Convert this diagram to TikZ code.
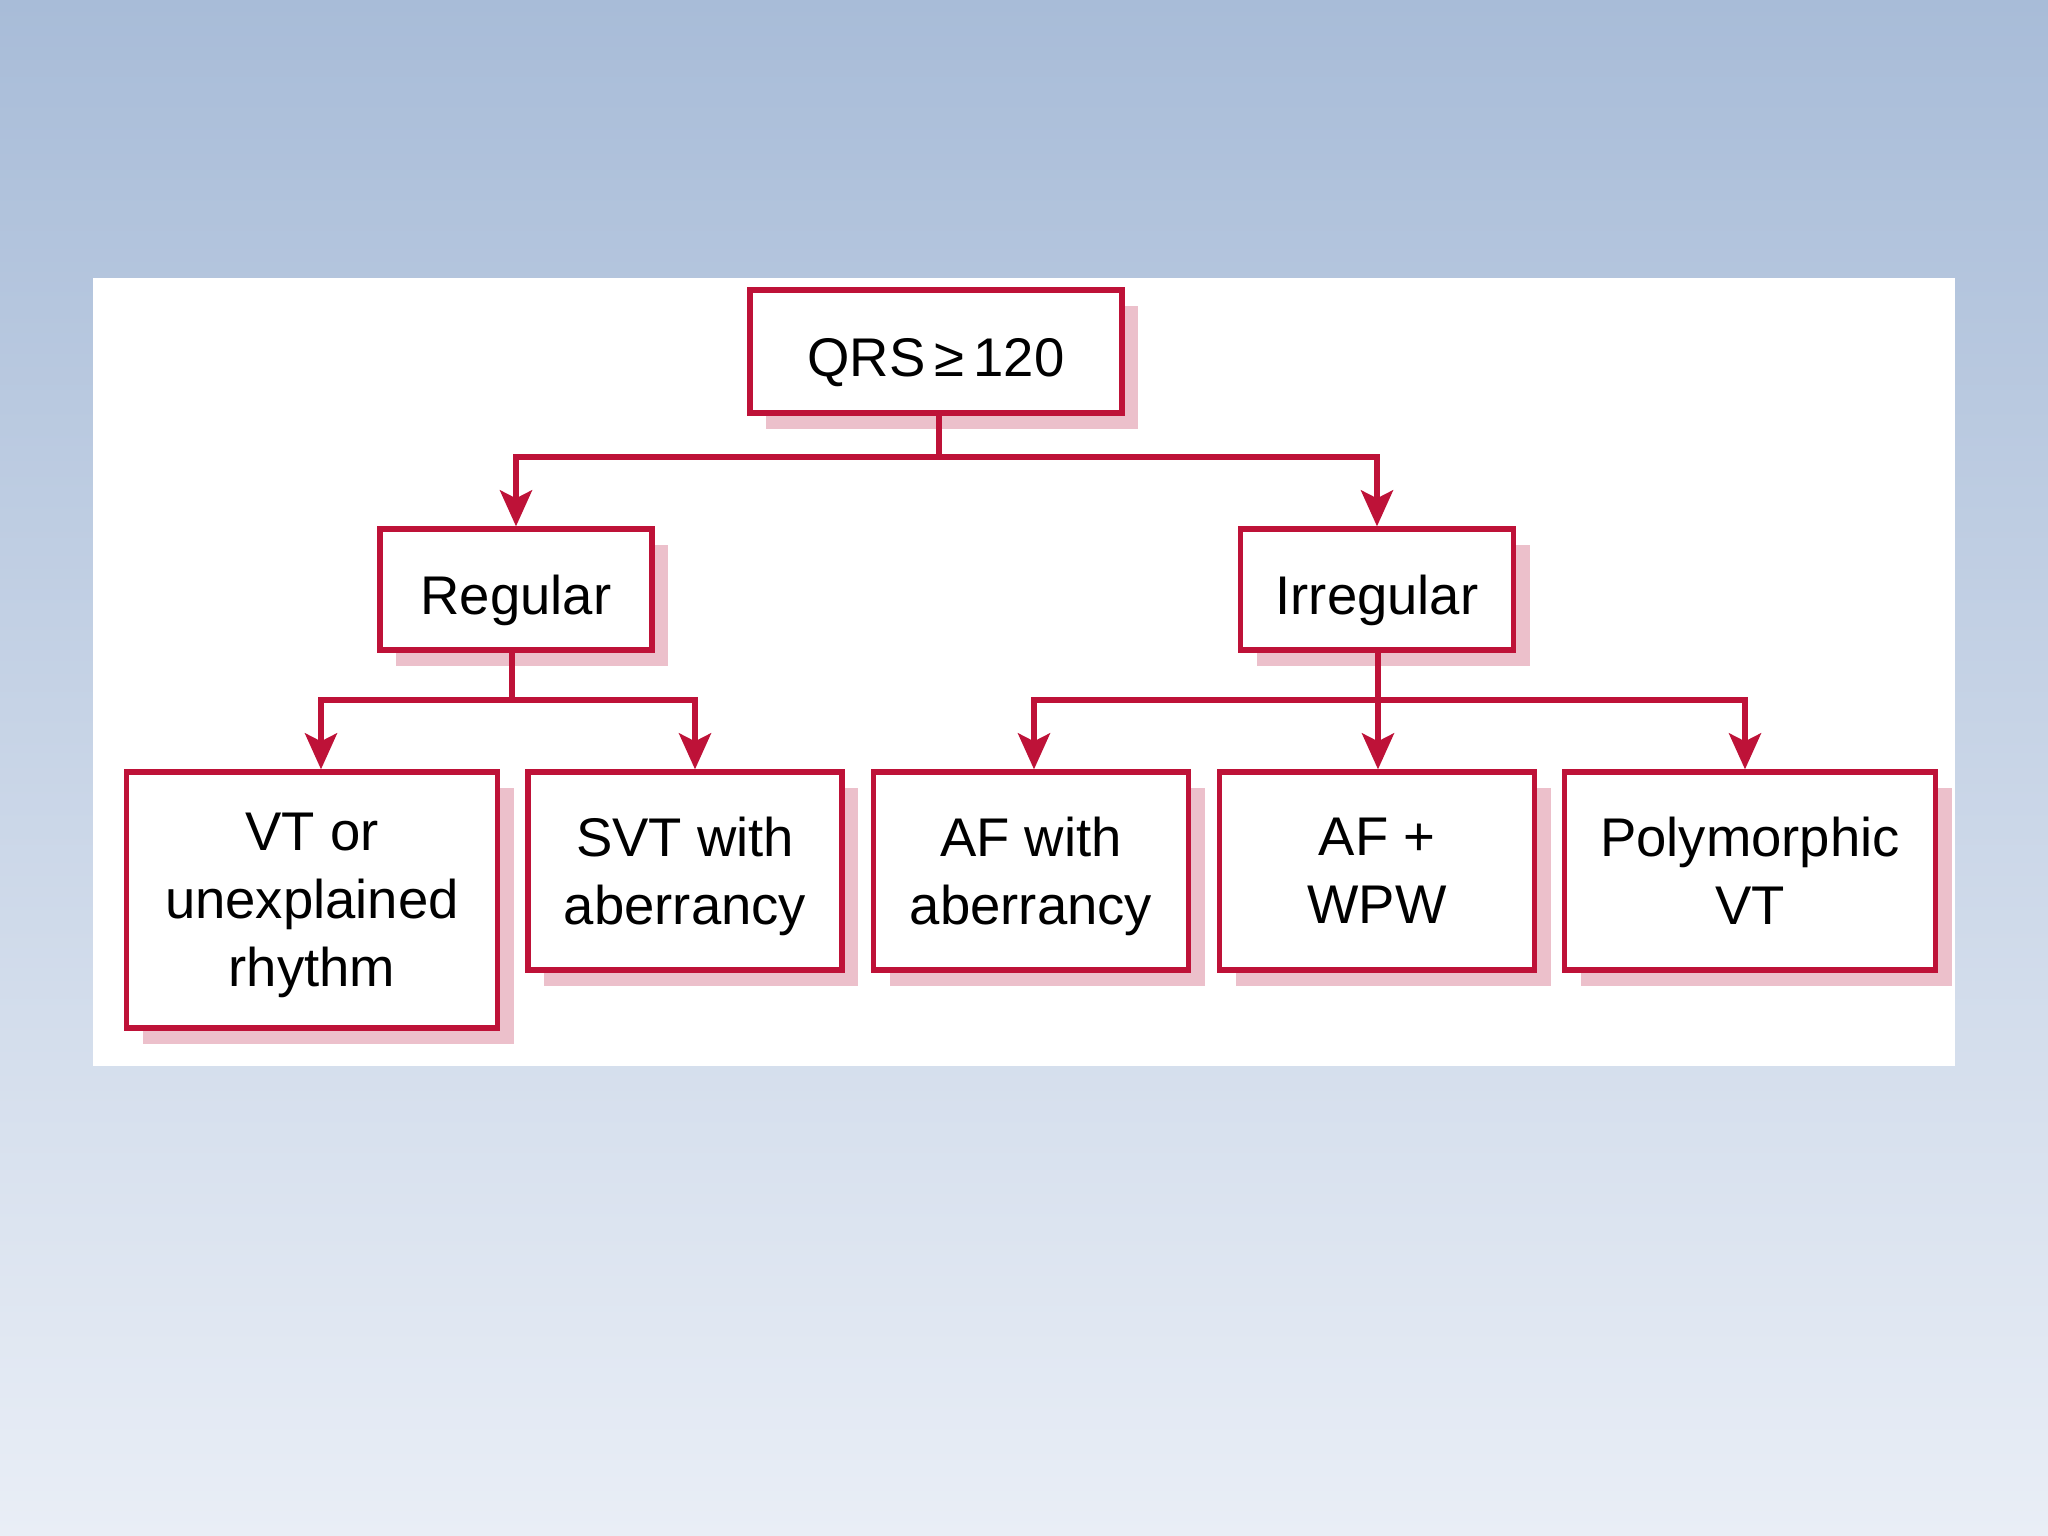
\documentclass[tikz,border=0pt]{standalone}
\usepackage{fontspec}
\setmainfont{Liberation Sans}
\usetikzlibrary{arrows.meta,shadows}
\definecolor{crimson}{RGB}{190,18,56}
\definecolor{boxshade}{RGB}{236,192,203}
\definecolor{bgtop}{RGB}{168,188,216}
\definecolor{bgbottom}{RGB}{233,238,246}
\tikzset{
  box/.style={draw=crimson,line width=1.5pt,fill=white,align=center,inner sep=0pt,
    text depth=0pt,font=\fontsize{15.5}{19.3}\selectfont,
    execute at begin node={\rule{0pt}{14.2pt}},
    drop shadow={shadow xshift=0.16cm,shadow yshift=-0.16cm,fill=boxshade,opacity=1}},
  link/.style={draw=crimson,line width=1.5pt,-{Stealth[length=0.36cm,width=0.32cm,inset=0.08cm]}},
  wire/.style={draw=crimson,line width=1.5pt}
}
\begin{document}
\begin{tikzpicture}
% background and white panel
\shade[top color=bgtop,bottom color=bgbottom] (0,0) rectangle (20.48,15.36);
\useasboundingbox (0,0) rectangle (20.48,15.36);
\fill[white] (0.93,4.70) rectangle (19.55,12.58);
% boxes
\node[box,minimum width=3.72cm,minimum height=1.23cm] (qrs) at (9.36,11.845) {QRS\,≥\,120};
\node[box,minimum width=2.72cm,minimum height=1.21cm] (reg) at (5.16,9.465) {Regular};
\node[box,minimum width=2.73cm,minimum height=1.21cm] (irr) at (13.77,9.465) {Irregular};
\node[box,minimum width=3.71cm,minimum height=2.56cm] (vt) at (3.12,6.36) {VT or\\unexplained\\rhythm};
\node[box,minimum width=3.14cm,minimum height=1.98cm] (svt) at (6.85,6.65) {SVT with\\aberrancy};
\node[box,minimum width=3.15cm,minimum height=1.98cm] (afab) at (10.31,6.65) {AF with\\aberrancy};
\node[box,minimum width=3.15cm,minimum height=1.98cm] (afwpw) at (13.77,6.65) {AF +\\WPW};
\node[box,minimum width=3.71cm,minimum height=1.98cm] (poly) at (17.50,6.65) {Polymorphic\\VT};
% branch points
\coordinate (s1) at (9.39,10.79);
\coordinate (s2) at (5.12,8.36);
\coordinate (s3) at (13.78,8.36);
% connectors
\draw[wire] (s1 |- qrs.south) -- (s1);
\draw[link] (s1) -| (reg.north);
\draw[link] (s1) -| (irr.north);
\draw[wire] (s2 |- reg.south) -- (s2);
\draw[link] (s2) -| ([xshift=0.09cm]vt.north);
\draw[link] (s2) -| ([xshift=0.1cm]svt.north);
\draw[link] (s3 |- irr.south) -- (s3 |- afwpw.north);
\draw[link] (s3) -| ([xshift=0.03cm]afab.north);
\draw[link] (s3) -| ([xshift=-0.05cm]poly.north);
\end{tikzpicture}
\end{document}
